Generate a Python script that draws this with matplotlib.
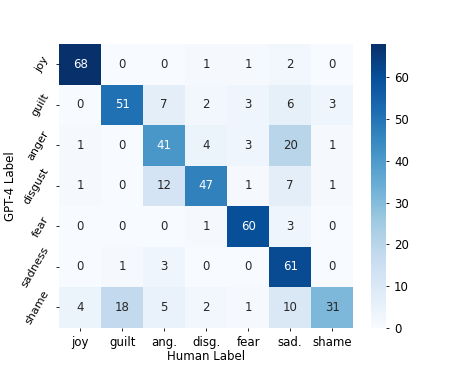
import numpy as np
import matplotlib
matplotlib.use("Agg")
import matplotlib.pyplot as plt
import seaborn as sns

human_labels = ["joy", "guilt", "ang.", "disg.", "fear", "sad.", "shame"]
gpt_labels = ["joy", "guilt", "anger", "disgust", "fear", "sadness", "shame"]

joy_row = [68, 0, 0, 1, 1, 2, 0]
guilt_row = [0, 51, 7, 2, 3, 6, 3]
anger_row = [1, 0, 41, 4, 3, 20, 1]
disgust_row = [1, 0, 12, 47, 1, 7, 1]
fear_row = [0, 0, 0, 1, 60, 3, 0]
sadness_row = [0, 1, 3, 0, 0, 61, 0]
shame_row = [4, 18, 5, 2, 1, 10, 31]

cm = np.array([joy_row, guilt_row, anger_row, disgust_row,
               fear_row, sadness_row, shame_row])

fs = 8.5
fig = plt.figure(figsize=(4.74, 3.68), dpi=100)
ax = sns.heatmap(cm, annot=True, fmt="d", cmap="Blues",
                 xticklabels=human_labels, yticklabels=gpt_labels,
                 annot_kws={"size": fs})
ax.set_xlabel("Human Label", fontsize=fs, labelpad=1)
ax.set_ylabel("GPT-4 Label", fontsize=fs, labelpad=2)
ax.set_yticklabels(gpt_labels, rotation=60, va="center", fontsize=8)
ax.set_xticklabels(human_labels, rotation=0, fontsize=fs)
ax.tick_params(length=2.5, width=0.6)
cbar = ax.collections[0].colorbar
cbar.ax.tick_params(labelsize=fs, length=2.5, width=0.6)

plt.savefig("out.png", dpi=100)
